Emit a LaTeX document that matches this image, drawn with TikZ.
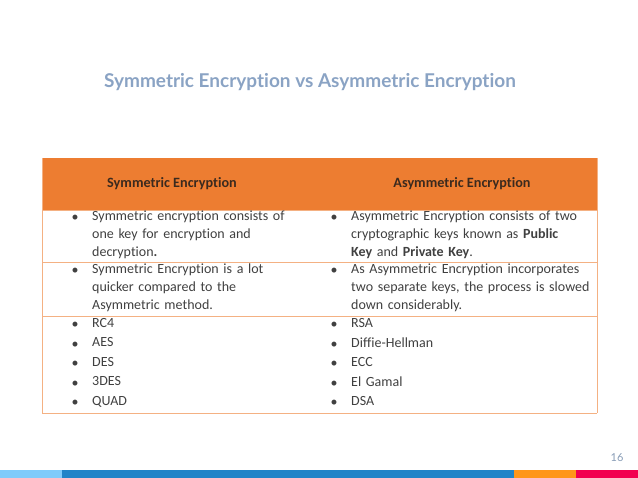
\documentclass[tikz,border=0pt]{standalone}
\usepackage{fontspec}
\setmainfont[Ligatures=NoCommon]{Carlito}
\newfontfamily\titlefont[Ligatures=NoCommon]{Lato}
\definecolor{hdr}{HTML}{ED7D31}
\definecolor{hdrtxt}{HTML}{3B2A1E}
\definecolor{ttl}{HTML}{8AA3C4}
\definecolor{rule}{HTML}{F4B183}
\definecolor{txt}{HTML}{404040}
\definecolor{barA}{HTML}{7FCBFB}
\definecolor{barB}{HTML}{2184C8}
\definecolor{barC}{HTML}{FF961A}
\definecolor{barD}{HTML}{F20050}
\begin{document}
\begin{tikzpicture}[x=1pt,y=-1pt,
  cell/.style={anchor=north west,align=left,text width=240pt,font=\fontsize{14}{18}\selectfont,text=txt,inner sep=0pt},
  bul/.style={anchor=north,font=\fontsize{14}{18}\selectfont,text=txt,inner sep=0pt},
  head/.style={font=\bfseries\fontsize{14.2}{16}\selectfont,text=hdrtxt}]
\useasboundingbox (0,0) rectangle (638,478);
\node[font=\titlefont\bfseries\fontsize{19}{22}\selectfont,text=ttl] (title) at (310,82) {Symmetric Encryption vs Asymmetric Encryption};
\fill[hdr] (42,158) rectangle (597,210);
\draw[rule,line width=0.8pt] (42,210) -- (597,210) (42,262) -- (597,262) (42,316) -- (597,316) (42,413) -- (597,413) (42,158) -- (42,413) (597,158) -- (597,413);
\node[head] (h1) at (172,184) {Symmetric Encryption};
\node[head] (h2) at (462,184) {Asymmetric Encryption};
\node[bul] (b1) at (75,215) {•};
\node[cell] (c1) at (92,211) {Symmetric encryption consists of\\one key for encryption and\\decryption\textbf{.}};
\node[bul] (b2) at (334,215) {•};
\node[cell] (c2) at (351,211) {Asymmetric Encryption consists of two\\cryptographic keys known as \textbf{Public}\\\textbf{Key} and \textbf{Private Key}.};
\node[bul] (b3) at (75,268) {•};
\node[cell] (c3) at (92,264) {Symmetric Encryption is a lot\\quicker compared to the\\Asymmetric method.};
\node[bul] (b4) at (334,268) {•};
\node[cell] (c4) at (351,264) {As Asymmetric Encryption incorporates\\two separate keys, the process is slowed\\down considerably.};
\foreach \t [count=\i] in {RC4,AES,DES,3DES,QUAD}{
  \node[bul] (l\i) at (75,{322+(\i-1)*19.5}) {•};
  \node[cell] (lt\i) at (92,{318+(\i-1)*19.5}) {\t};
}
\foreach \t [count=\i] in {RSA,Diffie-Hellman,ECC,El Gamal,DSA}{
  \node[bul] (r\i) at (334,{322+(\i-1)*19.5}) {•};
  \node[cell] (rt\i) at (351,{318+(\i-1)*19.5}) {\t};
}
\node[font=\titlefont\fontsize{11}{12}\selectfont,text=ttl!80!gray] (pg) at (617,458) {16};
\fill[barA] (0,470) rectangle (62,478);
\fill[barB] (62,470) rectangle (514,478);
\fill[barC] (514,470) rectangle (576,478);
\fill[barD] (576,470) rectangle (638,478);
\end{tikzpicture}
\end{document}
